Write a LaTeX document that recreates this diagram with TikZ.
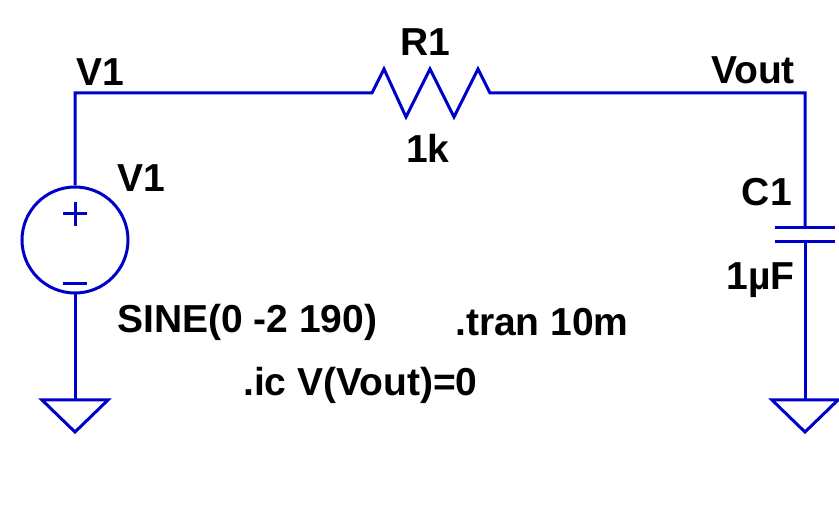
\documentclass[tikz,border=0pt]{standalone}
\usepackage{fontspec}
\setmainfont{Liberation Sans}
\begin{document}
\begin{tikzpicture}[x=1pt,y=-1pt,
  wire/.style={draw=blue!80!black,line width=3pt,line join=miter},
  lbl/.style={font=\bfseries\fontsize{39}{42}\selectfont,inner sep=0pt}]
\useasboundingbox (0,0) rectangle (839,518);
\fill[white] (0,0) rectangle (839,518);
\coordinate (a) at (75,93); \coordinate (r0) at (362,93); \coordinate (r1) at (490,93);
\coordinate (b) at (805,93); \coordinate (ct) at (805,228); \coordinate (cb) at (805,242);
\coordinate (gl) at (75,400); \coordinate (gr) at (805,400);
\node[circle,draw=blue!80!black,line width=3pt,minimum size=106pt,inner sep=0pt] (src) at (75,240) {};
\draw[wire] (src.north) -- (a) -- (r0) -- (372,93) -- (384,69) -- (406,117) -- (430,69) -- (454,117) -- (478,69) -- (r1) -- (b) -- (ct);
\draw[wire] (775,228) -- (835,228);
\draw[wire] (775,242) -- (835,242);
\draw[wire] (cb) -- (gr);
\draw[wire] (src.south) -- (gl);
\draw[wire] (42,400) -- (108,400) -- (75,432) -- cycle;
\draw[wire] (772,400) -- (838,400) -- (805,432) -- cycle;
\draw[wire] (63,214) -- (87,214) (75,202) -- (75,226);
\draw[wire] (63,284) -- (87,284);
\node[lbl,anchor=south west] (n1) at (76,86) {V1};
\node[lbl,anchor=south] (n2) at (425,56) {R1};
\node[lbl,anchor=south east] (n3) at (795,84) {Vout};
\node[lbl] (n4) at (428,148) {1k};
\node[lbl,anchor=west] (n5) at (117,178) {V1};
\node[lbl,anchor=east] (n6) at (792,192) {C1};
\node[lbl,anchor=east] (n7) at (795,280) {1µF};
\node[lbl,anchor=west] (n8) at (117,322) {SINE(0 -2 190)};
\node[lbl,anchor=west] (n9) at (455,322) {.tran 10m};
\node[lbl,anchor=west] (n10) at (243,385) {.ic V(Vout)=0};
\end{tikzpicture}
\end{document}
